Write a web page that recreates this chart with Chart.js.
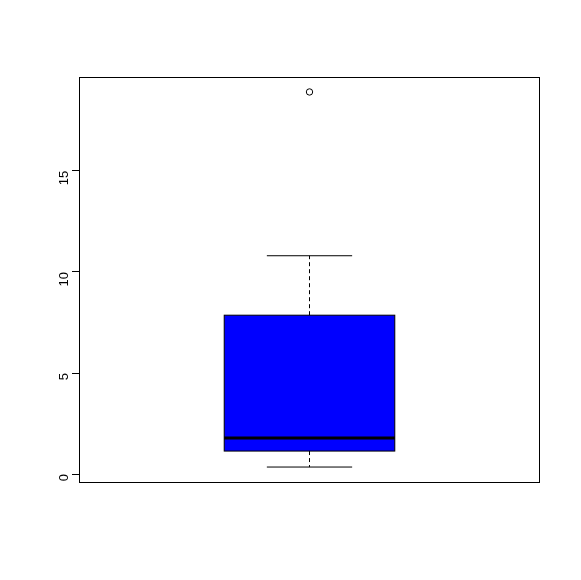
<!DOCTYPE html>
<html><head><meta charset="utf-8">
<script src="https://cdn.jsdelivr.net/npm/chart.js@4"></script>
<style>html,body{margin:0;padding:0;background:#fff}#w{width:581px;height:580px}</style>
</head><body><div id="w"><canvas id="c"></canvas></div>
<script>
const categories = ["1"];
const whiskerLow = [0.35];
const q1 = [1.14];
const median = [1.79];
const q3 = [7.86];
const whiskerHigh = [10.8];
const outliers = [[18.9]];
const yTicks = [0, 5, 10, 15];

const boxPlugin = {
  id: 'box',
  afterDatasetsDraw(chart) {
    const ctx = chart.ctx, xs = chart.scales.x, ys = chart.scales.y, a = chart.chartArea;
    ctx.save();
    categories.forEach((c, i) => {
      const cx = i + 1;
      const bl = xs.getPixelForValue(cx - 0.185), br = xs.getPixelForValue(cx + 0.185);
      const cl = xs.getPixelForValue(cx - 0.0925), cr = xs.getPixelForValue(cx + 0.0925);
      const xm = xs.getPixelForValue(cx);
      const p = v => ys.getPixelForValue(v);
      ctx.fillStyle = '#0000ff'; ctx.strokeStyle = '#000'; ctx.lineWidth = 1;
      ctx.fillRect(bl, p(q3[i]), br - bl, p(q1[i]) - p(q3[i]));
      ctx.strokeRect(bl, p(q3[i]), br - bl, p(q1[i]) - p(q3[i]));
      ctx.lineWidth = 3; ctx.beginPath(); ctx.moveTo(bl, p(median[i])); ctx.lineTo(br, p(median[i])); ctx.stroke();
      ctx.lineWidth = 1; ctx.setLineDash([4, 3]); ctx.beginPath();
      ctx.moveTo(xm, p(q3[i])); ctx.lineTo(xm, p(whiskerHigh[i]));
      ctx.moveTo(xm, p(q1[i])); ctx.lineTo(xm, p(whiskerLow[i])); ctx.stroke();
      ctx.setLineDash([]); ctx.beginPath();
      ctx.moveTo(cl, p(whiskerHigh[i])); ctx.lineTo(cr, p(whiskerHigh[i]));
      ctx.moveTo(cl, p(whiskerLow[i])); ctx.lineTo(cr, p(whiskerLow[i])); ctx.stroke();
      outliers[i].forEach(o => { ctx.beginPath(); ctx.arc(xm, p(o), 3.2, 0, Math.PI * 2); ctx.stroke(); });
    });
    ctx.strokeRect(a.left + 0.5, a.top + 0.5, a.right - a.left - 1, a.bottom - a.top);
    ctx.restore();
  }
};

new Chart(document.getElementById('c'), {
  type: 'scatter',
  data: { datasets: [{ data: [], pointRadius: 0 }] },
  options: {
    responsive: true, maintainAspectRatio: false, animation: false,
    layout: { padding: { top: 77, right: 41, bottom: 98, left: 0 } },
    plugins: { legend: { display: false }, tooltip: { enabled: false } },
    scales: {
      x: { type: 'linear', min: 0.5, max: 1.5, display: false },
      y: {
        min: -0.39, max: 19.64,
        afterFit(s) { s.width = 79; },
        afterBuildTicks(s) { s.ticks = yTicks.map(v => ({ value: v })); },
        border: { display: false },
        grid: { drawOnChartArea: false, tickLength: 7, color: '#000' },
        ticks: { color: '#000', minRotation: 90, maxRotation: 90, padding: 8,
                 font: { family: 'Liberation Sans', size: 13 } }
      }
    }
  },
  plugins: [boxPlugin]
});
</script></body></html>
